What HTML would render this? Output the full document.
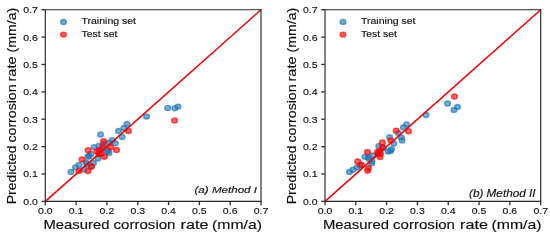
<!DOCTYPE html>
<html><head><meta charset="utf-8"><style>html,body{margin:0;padding:0;background:#fff;width:550px;height:235px;overflow:hidden}svg{display:block}text{font-family:"Liberation Sans",sans-serif;stroke:#111;stroke-width:0.15px}</style></head>
<body><svg width="550" height="235" viewBox="0 0 550 235"><defs><filter id="b" x="0" y="0" width="550" height="235" filterUnits="userSpaceOnUse"><feGaussianBlur stdDeviation="0.35"/></filter></defs><rect width="550" height="235" fill="#fff"/><g filter="url(#b)"><g><g fill="#1f77b4" fill-opacity="0.6" stroke="#1f77b4" stroke-opacity="0.65" stroke-width="1.4"><ellipse cx="167.7" cy="107.90" rx="2.85" ry="2.5"/><ellipse cx="174.8" cy="108.20" rx="2.85" ry="2.5"/><ellipse cx="178.1" cy="106.60" rx="2.85" ry="2.5"/><ellipse cx="146.5" cy="116.50" rx="2.85" ry="2.5"/><ellipse cx="127" cy="124.00" rx="2.85" ry="2.5"/><ellipse cx="124" cy="128.00" rx="2.85" ry="2.5"/><ellipse cx="118.5" cy="131.00" rx="2.85" ry="2.5"/><ellipse cx="100.5" cy="134.50" rx="2.85" ry="2.5"/><ellipse cx="122" cy="137.00" rx="2.85" ry="2.5"/><ellipse cx="112.2" cy="140.10" rx="2.85" ry="2.5"/><ellipse cx="115.3" cy="143.20" rx="2.85" ry="2.5"/><ellipse cx="109.2" cy="142.70" rx="2.85" ry="2.5"/><ellipse cx="104" cy="143.50" rx="2.85" ry="2.5"/><ellipse cx="108" cy="150.50" rx="2.85" ry="2.5"/><ellipse cx="109" cy="153.00" rx="2.85" ry="2.5"/><ellipse cx="94.1" cy="147.20" rx="2.85" ry="2.5"/><ellipse cx="99" cy="146.00" rx="2.85" ry="2.5"/><ellipse cx="102" cy="148.50" rx="2.85" ry="2.5"/><ellipse cx="107" cy="151.50" rx="2.85" ry="2.5"/><ellipse cx="91" cy="154.00" rx="2.85" ry="2.5"/><ellipse cx="88" cy="156.50" rx="2.85" ry="2.5"/><ellipse cx="89.1" cy="156.20" rx="2.85" ry="2.5"/><ellipse cx="93.5" cy="163.00" rx="2.85" ry="2.5"/><ellipse cx="91" cy="166.50" rx="2.85" ry="2.5"/><ellipse cx="86" cy="162.50" rx="2.85" ry="2.5"/><ellipse cx="87" cy="164.50" rx="2.85" ry="2.5"/><ellipse cx="79" cy="165.00" rx="2.85" ry="2.5"/><ellipse cx="75.5" cy="167.50" rx="2.85" ry="2.5"/><ellipse cx="71" cy="172.00" rx="2.85" ry="2.5"/><ellipse cx="84" cy="169.50" rx="2.85" ry="2.5"/><ellipse cx="98" cy="158.50" rx="2.85" ry="2.5"/></g><g fill="#ff0000" fill-opacity="0.6" stroke="#ff0000" stroke-opacity="0.65" stroke-width="1.4"><ellipse cx="174.5" cy="120.40" rx="2.85" ry="2.5"/><ellipse cx="128.5" cy="131.00" rx="2.85" ry="2.5"/><ellipse cx="103.6" cy="141.30" rx="2.85" ry="2.5"/><ellipse cx="102.8" cy="146.70" rx="2.85" ry="2.5"/><ellipse cx="110.8" cy="147.20" rx="2.85" ry="2.5"/><ellipse cx="116.5" cy="150.00" rx="2.85" ry="2.5"/><ellipse cx="97" cy="151.50" rx="2.85" ry="2.5"/><ellipse cx="99.5" cy="150.20" rx="2.85" ry="2.5"/><ellipse cx="99" cy="154.00" rx="2.85" ry="2.5"/><ellipse cx="101" cy="153.50" rx="2.85" ry="2.5"/><ellipse cx="104.4" cy="156.70" rx="2.85" ry="2.5"/><ellipse cx="88.1" cy="150.30" rx="2.85" ry="2.5"/><ellipse cx="82" cy="159.50" rx="2.85" ry="2.5"/><ellipse cx="91.5" cy="166.50" rx="2.85" ry="2.5"/><ellipse cx="88" cy="171.00" rx="2.85" ry="2.5"/><ellipse cx="79" cy="171.00" rx="2.85" ry="2.5"/></g><line x1="45.3" y1="201.4" x2="261.0" y2="9.7" stroke="#f00000" stroke-width="1.5"/><g stroke="#2a2a2a" stroke-width="1.15" fill="none"><line x1="45.3" y1="9.2" x2="45.3" y2="201.9"/><line x1="261.0" y1="9.2" x2="261.0" y2="201.9"/><line x1="44.8" y1="9.7" x2="261.5" y2="9.7"/><line x1="44.8" y1="201.4" x2="261.5" y2="201.4"/></g><g stroke="#333" stroke-width="1.35"><line x1="45.30" y1="201.4" x2="45.30" y2="205.20000000000002"/><line x1="41.5" y1="201.40" x2="45.3" y2="201.40"/><line x1="76.11" y1="201.4" x2="76.11" y2="205.20000000000002"/><line x1="41.5" y1="174.01" x2="45.3" y2="174.01"/><line x1="106.93" y1="201.4" x2="106.93" y2="205.20000000000002"/><line x1="41.5" y1="146.63" x2="45.3" y2="146.63"/><line x1="137.74" y1="201.4" x2="137.74" y2="205.20000000000002"/><line x1="41.5" y1="119.24" x2="45.3" y2="119.24"/><line x1="168.56" y1="201.4" x2="168.56" y2="205.20000000000002"/><line x1="41.5" y1="91.86" x2="45.3" y2="91.86"/><line x1="199.37" y1="201.4" x2="199.37" y2="205.20000000000002"/><line x1="41.5" y1="64.47" x2="45.3" y2="64.47"/><line x1="230.19" y1="201.4" x2="230.19" y2="205.20000000000002"/><line x1="41.5" y1="37.09" x2="45.3" y2="37.09"/><line x1="261.00" y1="201.4" x2="261.00" y2="205.20000000000002"/><line x1="41.5" y1="9.70" x2="45.3" y2="9.70"/></g><g font-family="Liberation Sans" font-size="9.9" fill="#111"><text x="45.30" y="213.8" text-anchor="middle" textLength="14.6" lengthAdjust="spacingAndGlyphs">0.0</text><text x="37.80" y="204.85" text-anchor="end" textLength="14.6" lengthAdjust="spacingAndGlyphs">0.0</text><text x="76.11" y="213.8" text-anchor="middle" textLength="14.6" lengthAdjust="spacingAndGlyphs">0.1</text><text x="37.80" y="177.46" text-anchor="end" textLength="14.6" lengthAdjust="spacingAndGlyphs">0.1</text><text x="106.93" y="213.8" text-anchor="middle" textLength="14.6" lengthAdjust="spacingAndGlyphs">0.2</text><text x="37.80" y="150.08" text-anchor="end" textLength="14.6" lengthAdjust="spacingAndGlyphs">0.2</text><text x="137.74" y="213.8" text-anchor="middle" textLength="14.6" lengthAdjust="spacingAndGlyphs">0.3</text><text x="37.80" y="122.69" text-anchor="end" textLength="14.6" lengthAdjust="spacingAndGlyphs">0.3</text><text x="168.56" y="213.8" text-anchor="middle" textLength="14.6" lengthAdjust="spacingAndGlyphs">0.4</text><text x="37.80" y="95.31" text-anchor="end" textLength="14.6" lengthAdjust="spacingAndGlyphs">0.4</text><text x="199.37" y="213.8" text-anchor="middle" textLength="14.6" lengthAdjust="spacingAndGlyphs">0.5</text><text x="37.80" y="67.92" text-anchor="end" textLength="14.6" lengthAdjust="spacingAndGlyphs">0.5</text><text x="230.19" y="213.8" text-anchor="middle" textLength="14.6" lengthAdjust="spacingAndGlyphs">0.6</text><text x="37.80" y="40.54" text-anchor="end" textLength="14.6" lengthAdjust="spacingAndGlyphs">0.6</text><text x="261.00" y="213.8" text-anchor="middle" textLength="14.6" lengthAdjust="spacingAndGlyphs">0.7</text><text x="37.80" y="13.15" text-anchor="end" textLength="14.6" lengthAdjust="spacingAndGlyphs">0.7</text></g><ellipse cx="63.5" cy="22" rx="2.85" ry="2.5" fill="#1f77b4" fill-opacity="0.6" stroke="#1f77b4" stroke-opacity="0.65" stroke-width="1.4"/><ellipse cx="63.5" cy="34.6" rx="2.85" ry="2.5" fill="#ff0000" fill-opacity="0.6" stroke="#ff0000" stroke-opacity="0.65" stroke-width="1.4"/><g font-family="Liberation Sans" font-size="9.3" fill="#111"><text x="81.5" y="24.1" textLength="54.5" lengthAdjust="spacingAndGlyphs">Training set</text><text x="81.5" y="37.1" textLength="36" lengthAdjust="spacingAndGlyphs">Test set</text></g><text x="194.5" y="192.7" font-family="Liberation Sans" font-style="italic" font-size="9.9" fill="#111" textLength="62.5" lengthAdjust="spacingAndGlyphs">(a) Method I</text><text x="43.50" y="229.4" font-family="Liberation Sans" font-size="12.2" fill="#111" textLength="66.0" lengthAdjust="spacingAndGlyphs">Measured</text><text x="113.50" y="229.4" font-family="Liberation Sans" font-size="12.2" fill="#111" textLength="62.0" lengthAdjust="spacingAndGlyphs">corrosion</text><text x="180.50" y="229.4" font-family="Liberation Sans" font-size="12.2" fill="#111" textLength="28.0" lengthAdjust="spacingAndGlyphs">rate</text><text x="212.00" y="229.4" font-family="Liberation Sans" font-size="12.2" fill="#111" textLength="50.0" lengthAdjust="spacingAndGlyphs">(mm/a)</text><text transform="translate(15.50,204.20) rotate(-90)" x="0" y="0" font-family="Liberation Sans" font-size="13" fill="#111" textLength="58.8" lengthAdjust="spacingAndGlyphs">Predicted</text><text transform="translate(15.50,142.50) rotate(-90)" x="0" y="0" font-family="Liberation Sans" font-size="13" fill="#111" textLength="58.0" lengthAdjust="spacingAndGlyphs">corrosion</text><text transform="translate(15.50,81.50) rotate(-90)" x="0" y="0" font-family="Liberation Sans" font-size="13" fill="#111" textLength="25.0" lengthAdjust="spacingAndGlyphs">rate</text><text transform="translate(15.50,52.50) rotate(-90)" x="0" y="0" font-family="Liberation Sans" font-size="13" fill="#111" textLength="44.8" lengthAdjust="spacingAndGlyphs">(mm/a)</text></g><g><g fill="#1f77b4" fill-opacity="0.6" stroke="#1f77b4" stroke-opacity="0.65" stroke-width="1.4"><ellipse cx="447.5" cy="103.50" rx="2.85" ry="2.5"/><ellipse cx="457.5" cy="107.00" rx="2.85" ry="2.5"/><ellipse cx="454" cy="110.00" rx="2.85" ry="2.5"/><ellipse cx="426" cy="115.00" rx="2.85" ry="2.5"/><ellipse cx="406.5" cy="124.50" rx="2.85" ry="2.5"/><ellipse cx="403.4" cy="127.50" rx="2.85" ry="2.5"/><ellipse cx="398.3" cy="133.10" rx="2.85" ry="2.5"/><ellipse cx="389.6" cy="137.30" rx="2.85" ry="2.5"/><ellipse cx="401.3" cy="137.50" rx="2.85" ry="2.5"/><ellipse cx="402" cy="140.50" rx="2.85" ry="2.5"/><ellipse cx="393.8" cy="143.50" rx="2.85" ry="2.5"/><ellipse cx="391.5" cy="149.20" rx="2.85" ry="2.5"/><ellipse cx="390.5" cy="151.00" rx="2.85" ry="2.5"/><ellipse cx="378.8" cy="146.10" rx="2.85" ry="2.5"/><ellipse cx="383.4" cy="147.90" rx="2.85" ry="2.5"/><ellipse cx="388" cy="151.50" rx="2.85" ry="2.5"/><ellipse cx="373" cy="155.50" rx="2.85" ry="2.5"/><ellipse cx="365" cy="156.70" rx="2.85" ry="2.5"/><ellipse cx="368.4" cy="157.10" rx="2.85" ry="2.5"/><ellipse cx="369" cy="159.00" rx="2.85" ry="2.5"/><ellipse cx="372" cy="161.50" rx="2.85" ry="2.5"/><ellipse cx="371.5" cy="163.50" rx="2.85" ry="2.5"/><ellipse cx="360" cy="165.50" rx="2.85" ry="2.5"/><ellipse cx="357" cy="167.50" rx="2.85" ry="2.5"/><ellipse cx="353" cy="169.80" rx="2.85" ry="2.5"/><ellipse cx="349.5" cy="172.00" rx="2.85" ry="2.5"/></g><g fill="#ff0000" fill-opacity="0.6" stroke="#ff0000" stroke-opacity="0.65" stroke-width="1.4"><ellipse cx="454.5" cy="96.50" rx="2.85" ry="2.5"/><ellipse cx="396.2" cy="130.60" rx="2.85" ry="2.5"/><ellipse cx="408.5" cy="131.30" rx="2.85" ry="2.5"/><ellipse cx="390.8" cy="140.50" rx="2.85" ry="2.5"/><ellipse cx="382.3" cy="142.50" rx="2.85" ry="2.5"/><ellipse cx="382.3" cy="147.10" rx="2.85" ry="2.5"/><ellipse cx="367.5" cy="152.00" rx="2.85" ry="2.5"/><ellipse cx="377.5" cy="152.00" rx="2.85" ry="2.5"/><ellipse cx="379.5" cy="151.00" rx="2.85" ry="2.5"/><ellipse cx="380.5" cy="153.50" rx="2.85" ry="2.5"/><ellipse cx="378" cy="154.00" rx="2.85" ry="2.5"/><ellipse cx="380" cy="157.00" rx="2.85" ry="2.5"/><ellipse cx="357.7" cy="161.50" rx="2.85" ry="2.5"/><ellipse cx="361.5" cy="164.70" rx="2.85" ry="2.5"/><ellipse cx="368.4" cy="168.20" rx="2.85" ry="2.5"/><ellipse cx="367.6" cy="170.70" rx="2.85" ry="2.5"/></g><line x1="325.0" y1="201.4" x2="540.7" y2="9.7" stroke="#f00000" stroke-width="1.5"/><g stroke="#2a2a2a" stroke-width="1.15" fill="none"><line x1="325.0" y1="9.2" x2="325.0" y2="201.9"/><line x1="540.7" y1="9.2" x2="540.7" y2="201.9"/><line x1="324.5" y1="9.7" x2="541.2" y2="9.7"/><line x1="324.5" y1="201.4" x2="541.2" y2="201.4"/></g><g stroke="#333" stroke-width="1.35"><line x1="325.00" y1="201.4" x2="325.00" y2="205.20000000000002"/><line x1="321.2" y1="201.40" x2="325.0" y2="201.40"/><line x1="355.81" y1="201.4" x2="355.81" y2="205.20000000000002"/><line x1="321.2" y1="174.01" x2="325.0" y2="174.01"/><line x1="386.63" y1="201.4" x2="386.63" y2="205.20000000000002"/><line x1="321.2" y1="146.63" x2="325.0" y2="146.63"/><line x1="417.44" y1="201.4" x2="417.44" y2="205.20000000000002"/><line x1="321.2" y1="119.24" x2="325.0" y2="119.24"/><line x1="448.26" y1="201.4" x2="448.26" y2="205.20000000000002"/><line x1="321.2" y1="91.86" x2="325.0" y2="91.86"/><line x1="479.07" y1="201.4" x2="479.07" y2="205.20000000000002"/><line x1="321.2" y1="64.47" x2="325.0" y2="64.47"/><line x1="509.89" y1="201.4" x2="509.89" y2="205.20000000000002"/><line x1="321.2" y1="37.09" x2="325.0" y2="37.09"/><line x1="540.70" y1="201.4" x2="540.70" y2="205.20000000000002"/><line x1="321.2" y1="9.70" x2="325.0" y2="9.70"/></g><g font-family="Liberation Sans" font-size="9.9" fill="#111"><text x="325.00" y="213.8" text-anchor="middle" textLength="14.6" lengthAdjust="spacingAndGlyphs">0.0</text><text x="317.50" y="204.85" text-anchor="end" textLength="14.6" lengthAdjust="spacingAndGlyphs">0.0</text><text x="355.81" y="213.8" text-anchor="middle" textLength="14.6" lengthAdjust="spacingAndGlyphs">0.1</text><text x="317.50" y="177.46" text-anchor="end" textLength="14.6" lengthAdjust="spacingAndGlyphs">0.1</text><text x="386.63" y="213.8" text-anchor="middle" textLength="14.6" lengthAdjust="spacingAndGlyphs">0.2</text><text x="317.50" y="150.08" text-anchor="end" textLength="14.6" lengthAdjust="spacingAndGlyphs">0.2</text><text x="417.44" y="213.8" text-anchor="middle" textLength="14.6" lengthAdjust="spacingAndGlyphs">0.3</text><text x="317.50" y="122.69" text-anchor="end" textLength="14.6" lengthAdjust="spacingAndGlyphs">0.3</text><text x="448.26" y="213.8" text-anchor="middle" textLength="14.6" lengthAdjust="spacingAndGlyphs">0.4</text><text x="317.50" y="95.31" text-anchor="end" textLength="14.6" lengthAdjust="spacingAndGlyphs">0.4</text><text x="479.07" y="213.8" text-anchor="middle" textLength="14.6" lengthAdjust="spacingAndGlyphs">0.5</text><text x="317.50" y="67.92" text-anchor="end" textLength="14.6" lengthAdjust="spacingAndGlyphs">0.5</text><text x="509.89" y="213.8" text-anchor="middle" textLength="14.6" lengthAdjust="spacingAndGlyphs">0.6</text><text x="317.50" y="40.54" text-anchor="end" textLength="14.6" lengthAdjust="spacingAndGlyphs">0.6</text><text x="540.70" y="213.8" text-anchor="middle" textLength="14.6" lengthAdjust="spacingAndGlyphs">0.7</text><text x="317.50" y="13.15" text-anchor="end" textLength="14.6" lengthAdjust="spacingAndGlyphs">0.7</text></g><ellipse cx="343.0" cy="22" rx="2.85" ry="2.5" fill="#1f77b4" fill-opacity="0.6" stroke="#1f77b4" stroke-opacity="0.65" stroke-width="1.4"/><ellipse cx="343.0" cy="34.6" rx="2.85" ry="2.5" fill="#ff0000" fill-opacity="0.6" stroke="#ff0000" stroke-opacity="0.65" stroke-width="1.4"/><g font-family="Liberation Sans" font-size="9.3" fill="#111"><text x="361.0" y="24.1" textLength="54.5" lengthAdjust="spacingAndGlyphs">Training set</text><text x="361.0" y="37.1" textLength="36" lengthAdjust="spacingAndGlyphs">Test set</text></g><text x="469" y="196.5" font-family="Liberation Sans" font-style="italic" font-size="10.4" fill="#111" textLength="66.5" lengthAdjust="spacingAndGlyphs">(b) Method II</text><text x="323.00" y="229.4" font-family="Liberation Sans" font-size="12.2" fill="#111" textLength="66.0" lengthAdjust="spacingAndGlyphs">Measured</text><text x="393.00" y="229.4" font-family="Liberation Sans" font-size="12.2" fill="#111" textLength="62.0" lengthAdjust="spacingAndGlyphs">corrosion</text><text x="460.00" y="229.4" font-family="Liberation Sans" font-size="12.2" fill="#111" textLength="28.0" lengthAdjust="spacingAndGlyphs">rate</text><text x="491.50" y="229.4" font-family="Liberation Sans" font-size="12.2" fill="#111" textLength="50.0" lengthAdjust="spacingAndGlyphs">(mm/a)</text><text transform="translate(295.50,204.20) rotate(-90)" x="0" y="0" font-family="Liberation Sans" font-size="13" fill="#111" textLength="58.8" lengthAdjust="spacingAndGlyphs">Predicted</text><text transform="translate(295.50,142.50) rotate(-90)" x="0" y="0" font-family="Liberation Sans" font-size="13" fill="#111" textLength="58.0" lengthAdjust="spacingAndGlyphs">corrosion</text><text transform="translate(295.50,81.50) rotate(-90)" x="0" y="0" font-family="Liberation Sans" font-size="13" fill="#111" textLength="25.0" lengthAdjust="spacingAndGlyphs">rate</text><text transform="translate(295.50,52.50) rotate(-90)" x="0" y="0" font-family="Liberation Sans" font-size="13" fill="#111" textLength="44.8" lengthAdjust="spacingAndGlyphs">(mm/a)</text></g></g></svg></body></html>
